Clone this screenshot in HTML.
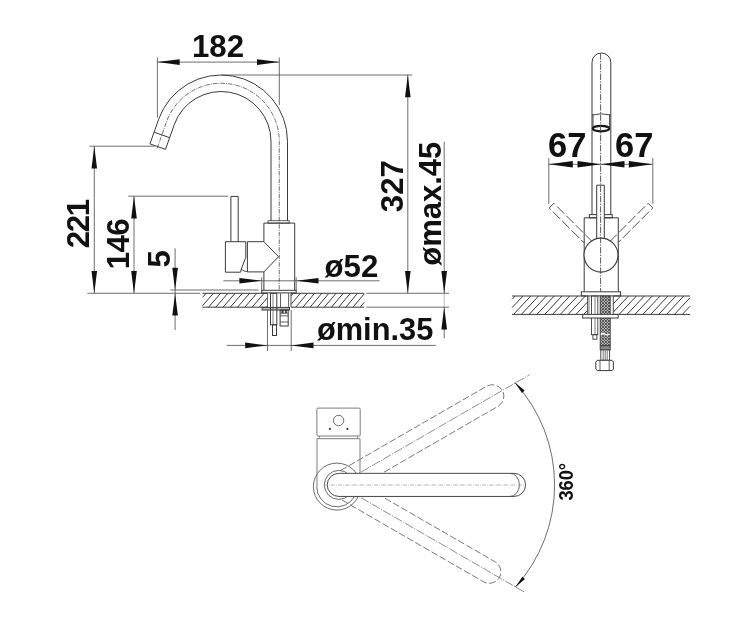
<!DOCTYPE html>
<html><head><meta charset="utf-8"><title>Faucet dimensions</title>
<style>
html,body{margin:0;padding:0;background:#fff;}
svg{display:block;will-change:transform}
.t{font-family:"Liberation Sans",sans-serif;font-weight:bold;fill:#111;}
</style></head><body>
<svg width="748" height="630" viewBox="0 0 748 630">
<rect width="748" height="630" fill="#fff"/>
<path d="M287.50 221.0 L287.50 141.3 A66.3 66.3 0 0 0 158.70 119.17 L149.96 143.87 L165.51 149.37 L174.26 124.68 A49.8 49.8 0 0 1 271.00 141.3 L271.00 221.0" stroke="#3a3a3a" stroke-width="1.0" fill="none" />
<line x1="154.10" y1="132.18" x2="169.65" y2="137.68" stroke="#3a3a3a" stroke-width="1.0" />
<path d="M157.07 148.51 L166.48 121.92 A58.05 58.05 0 0 1 279.25 141.3 L279.25 291" stroke="#555" stroke-width="0.85" fill="none" stroke-dasharray="4.4 1.1 1 1.1"/>
<rect x="268.00" y="220.70" width="21.20" height="2.40" stroke="#3a3a3a" stroke-width="0.8" fill="none" />
<path d="M263.9 241.7 L263.9 223.1 L294.7 223.1 L294.7 290.2" stroke="#3a3a3a" stroke-width="1.0" fill="none" />
<path d="M263.9 271.9 L263.9 290.2" stroke="#3a3a3a" stroke-width="1.0" fill="none" />
<path d="M263.9 241.7 L278.6 256.7 L263.9 271.9" stroke="#3a3a3a" stroke-width="1.0" fill="none" />
<path d="M263.9 241.7 L247.4 241.7 L247.4 271.9 L263.9 271.9" stroke="#3a3a3a" stroke-width="1.0" fill="none" />
<path d="M245.8 241.7 L225.4 241.7 L225.4 272.2 L240.6 272.2 L241.2 269.3 L245.8 257.2 Z" stroke="#3a3a3a" stroke-width="1.0" fill="none" />
<path d="M241.2 269.3 Q244 271.6 247.4 271.6" stroke="#3a3a3a" stroke-width="0.9" fill="none" />
<path d="M230.9 241.7 L230.9 196.4 L238.2 196.4 L238.2 241.7" stroke="#3a3a3a" stroke-width="1.0" fill="none" />
<rect x="261.70" y="290.30" width="34.50" height="2.60" stroke="#3a3a3a" stroke-width="1.0" fill="none" />
<line x1="261.70" y1="277.30" x2="261.70" y2="290.30" stroke="#4a4a4a" stroke-width="0.8" />
<line x1="296.20" y1="277.30" x2="296.20" y2="290.30" stroke="#4a4a4a" stroke-width="0.8" />
<path d="M202.60 297.33L206.10 293.30M202.60 305.67L213.35 293.30M208.52 307.20L220.60 293.30M215.77 307.20L227.85 293.30M223.02 307.20L235.10 293.30M230.27 307.20L242.35 293.30M237.52 307.20L249.60 293.30M244.77 307.20L256.85 293.30M252.02 307.20L264.10 293.30M259.27 307.20L267.50 297.73M266.52 307.20L267.50 306.07" stroke="#3a3a3a" stroke-width="1.0" fill="none" />
<path d="M291.00 295.86L293.15 293.30M291.00 304.38L300.30 293.30M295.79 307.20L307.45 293.30M302.94 307.20L314.60 293.30M310.09 307.20L321.75 293.30M317.24 307.20L328.90 293.30M324.39 307.20L336.05 293.30M331.54 307.20L343.20 293.30M338.69 307.20L350.35 293.30M345.84 307.20L357.50 293.30M352.99 307.20L364.20 293.84M360.14 307.20L364.20 302.36" stroke="#3a3a3a" stroke-width="1.0" fill="none" />
<line x1="202.40" y1="293.30" x2="267.50" y2="293.30" stroke="#3a3a3a" stroke-width="1.0" />
<line x1="291.00" y1="293.30" x2="364.20" y2="293.30" stroke="#3a3a3a" stroke-width="1.0" />
<line x1="202.40" y1="307.20" x2="267.50" y2="307.20" stroke="#3a3a3a" stroke-width="1.0" />
<line x1="291.00" y1="307.20" x2="364.20" y2="307.20" stroke="#3a3a3a" stroke-width="1.0" />
<line x1="366.30" y1="293.30" x2="449.00" y2="293.30" stroke="#4a4a4a" stroke-width="0.8" />
<line x1="366.30" y1="307.20" x2="449.00" y2="307.20" stroke="#4a4a4a" stroke-width="0.8" />
<line x1="87.30" y1="293.30" x2="200.30" y2="293.30" stroke="#4a4a4a" stroke-width="0.8" />
<line x1="267.50" y1="293.30" x2="267.50" y2="351.00" stroke="#4a4a4a" stroke-width="0.8" />
<line x1="291.20" y1="310.00" x2="291.20" y2="351.00" stroke="#4a4a4a" stroke-width="0.8" />
<line x1="291.00" y1="293.30" x2="291.00" y2="307.20" stroke="#3a3a3a" stroke-width="0.9" />
<rect x="262.10" y="307.40" width="27.40" height="2.60" stroke="#3a3a3a" stroke-width="1.0" fill="#bbb" />
<rect x="270.50" y="293.30" width="6.30" height="31.50" stroke="#3a3a3a" stroke-width="1.0" fill="none" />
<line x1="273.00" y1="293.30" x2="273.00" y2="324.80" stroke="#4a4a4a" stroke-width="0.7" />
<rect x="272.50" y="324.80" width="4.00" height="10.70" stroke="#3a3a3a" stroke-width="1.0" fill="none" />
<line x1="280.50" y1="293.30" x2="280.50" y2="307.20" stroke="#3a3a3a" stroke-width="0.8" />
<line x1="288.60" y1="293.30" x2="288.60" y2="307.20" stroke="#3a3a3a" stroke-width="0.8" />
<rect x="280.10" y="310.00" width="8.10" height="16.00" stroke="#3a3a3a" stroke-width="1.0" fill="none" />
<rect x="281.80" y="310.20" width="1.40" height="2.80" stroke="#3a3a3a" stroke-width="0.6" fill="#444" />
<rect x="285.20" y="310.20" width="1.40" height="2.80" stroke="#3a3a3a" stroke-width="0.6" fill="#444" />
<line x1="280.10" y1="313.20" x2="288.20" y2="313.20" stroke="#3a3a3a" stroke-width="0.8" />
<line x1="280.10" y1="315.80" x2="288.20" y2="315.80" stroke="#3a3a3a" stroke-width="0.8" />
<line x1="280.10" y1="322.00" x2="288.20" y2="322.00" stroke="#3a3a3a" stroke-width="0.8" />
<line x1="157.40" y1="57.40" x2="157.40" y2="117.60" stroke="#4a4a4a" stroke-width="0.8" />
<line x1="279.30" y1="57.40" x2="279.30" y2="105.00" stroke="#4a4a4a" stroke-width="0.8" />
<line x1="157.40" y1="62.10" x2="279.30" y2="62.10" stroke="#4a4a4a" stroke-width="0.8" />
<polygon points="157.40,62.10 179.70,59.30 179.70,64.90" fill="#111"/>
<polygon points="279.30,62.10 257.00,64.90 257.00,59.30" fill="#111"/>
<text transform="translate(192.00,56.90)" font-size="31.2" text-anchor="start" class="t">182</text>
<line x1="221.00" y1="75.00" x2="412.30" y2="75.00" stroke="#4a4a4a" stroke-width="0.8" />
<line x1="407.80" y1="75.00" x2="407.80" y2="293.30" stroke="#4a4a4a" stroke-width="0.8" />
<polygon points="407.80,75.00 410.60,97.30 405.00,97.30" fill="#111"/>
<polygon points="407.80,293.30 405.00,271.00 410.60,271.00" fill="#111"/>
<text transform="translate(403.20,212.20) rotate(-90)" font-size="31.2" text-anchor="start" class="t">327</text>
<line x1="444.20" y1="141.90" x2="444.20" y2="293.30" stroke="#4a4a4a" stroke-width="0.8" />
<polygon points="444.20,293.30 441.40,271.00 447.00,271.00" fill="#111"/>
<line x1="444.20" y1="307.20" x2="444.20" y2="338.40" stroke="#4a4a4a" stroke-width="0.8" />
<line x1="444.20" y1="293.30" x2="444.20" y2="307.20" stroke="#888" stroke-width="0.6" />
<polygon points="444.20,307.20 447.00,329.50 441.40,329.50" fill="#111"/>
<text transform="translate(441.30,265.80) rotate(-90)" font-size="31" text-anchor="start" class="t">ømax.45</text>
<line x1="223.40" y1="280.80" x2="379.60" y2="280.80" stroke="#4a4a4a" stroke-width="0.8" />
<polygon points="261.70,280.80 239.40,283.60 239.40,278.00" fill="#111"/>
<polygon points="296.20,280.80 318.50,278.00 318.50,283.60" fill="#111"/>
<text transform="translate(324.50,276.80)" font-size="31.2" text-anchor="start" class="t">ø52</text>
<line x1="226.60" y1="345.40" x2="435.80" y2="345.40" stroke="#4a4a4a" stroke-width="0.8" />
<polygon points="267.50,345.40 245.20,348.20 245.20,342.60" fill="#111"/>
<polygon points="291.20,345.40 313.50,342.60 313.50,348.20" fill="#111"/>
<text transform="translate(316.90,339.70)" font-size="30.8" text-anchor="start" class="t">ømin.35</text>
<line x1="89.30" y1="146.20" x2="154.50" y2="146.20" stroke="#4a4a4a" stroke-width="0.8" />
<line x1="94.30" y1="146.20" x2="94.30" y2="293.30" stroke="#4a4a4a" stroke-width="0.8" />
<polygon points="94.30,146.20 97.10,168.50 91.50,168.50" fill="#111"/>
<polygon points="94.30,293.30 91.50,271.00 97.10,271.00" fill="#111"/>
<text transform="translate(89.20,248.30) rotate(-90)" font-size="31.2" text-anchor="start" letter-spacing="-1.3" class="t">221</text>
<line x1="128.30" y1="196.20" x2="228.30" y2="196.20" stroke="#4a4a4a" stroke-width="0.8" />
<line x1="134.00" y1="196.20" x2="134.00" y2="293.30" stroke="#4a4a4a" stroke-width="0.8" />
<polygon points="134.00,196.20 136.80,218.50 131.20,218.50" fill="#111"/>
<polygon points="134.00,293.30 131.20,271.00 136.80,271.00" fill="#111"/>
<text transform="translate(128.60,269.30) rotate(-90)" font-size="31.2" text-anchor="start" letter-spacing="-0.6" class="t">146</text>
<line x1="170.30" y1="290.00" x2="258.50" y2="290.00" stroke="#4a4a4a" stroke-width="0.8" />
<line x1="175.10" y1="248.30" x2="175.10" y2="330.00" stroke="#4a4a4a" stroke-width="0.8" />
<polygon points="175.10,290.00 172.30,267.70 177.90,267.70" fill="#111"/>
<polygon points="175.10,293.30 177.90,315.60 172.30,315.60" fill="#111"/>
<text transform="translate(170.10,267.40) rotate(-90)" font-size="31.2" text-anchor="start" class="t">5</text>
<path d="M592.0 214.6 L592.0 62.40 A9.40 9.40 0 0 1 610.8 62.40 L610.8 214.6" stroke="#3a3a3a" stroke-width="1.0" fill="none" />
<path d="M592.0 115.0 Q601.0 112.6 610.8 115.0" stroke="#3a3a3a" stroke-width="0.9" fill="none" />
<path d="M593.0 114.3 L593.0 128.6 M609.6 114.3 L609.6 128.6" stroke="#3a3a3a" stroke-width="0.9" fill="none" />
<ellipse cx="601.0" cy="128.6" rx="8.2" ry="2.7" fill="#fff" stroke="#1a1a1a" stroke-width="2.2"/>
<rect x="589.40" y="214.60" width="22.80" height="3.20" stroke="#3a3a3a" stroke-width="1.0" fill="none" />
<path d="M584.2 291.8 L584.2 217.8 L618.3 217.8 L618.3 291.8" stroke="#3a3a3a" stroke-width="1.0" fill="none" />
<path d="M591.67 241.10 L553.84 203.27 L549.17 207.94 L584.20 242.97" stroke="#505050" stroke-width="1.0" fill="none" stroke-dasharray="10.5 2.8" stroke-dashoffset="1.2"/>
<path d="M610.33 241.10 L648.16 203.27 L652.83 207.94 L618.30 242.47" stroke="#505050" stroke-width="1.0" fill="none" stroke-dasharray="10.5 2.8" stroke-dashoffset="1.2"/>
<path d="M596.7 240 L596.7 185.2 L604.3 185.2 L604.3 240" stroke="#3a3a3a" stroke-width="1.0" fill="#fff" />
<circle cx="601.0" cy="255.1" r="17.0" fill="#fff" stroke="#3a3a3a" stroke-width="1.1"/>
<line x1="600.60" y1="53.30" x2="600.60" y2="291.50" stroke="#4a4a4a" stroke-width="0.9" stroke-dasharray="6.3 1.3 1.3 1.3"/>
<rect x="581.30" y="291.80" width="39.30" height="4.10" stroke="#3a3a3a" stroke-width="1.0" fill="none" />
<path d="M512.00 299.41L515.20 296.00M512.00 307.71L523.00 296.00M513.52 314.40L530.80 296.00M521.32 314.40L538.60 296.00M529.12 314.40L546.40 296.00M536.92 314.40L554.20 296.00M544.72 314.40L562.00 296.00M552.52 314.40L569.80 296.00M560.32 314.40L577.60 296.00M568.12 314.40L585.40 296.00M575.92 314.40L587.60 301.96M583.72 314.40L587.60 310.27" stroke="#3a3a3a" stroke-width="1.0" fill="none" />
<path d="M613.30 303.77L620.60 296.00M613.30 312.19L628.50 296.00M619.12 314.40L636.40 296.00M627.02 314.40L644.30 296.00M634.92 314.40L652.20 296.00M642.82 314.40L660.10 296.00M650.72 314.40L668.00 296.00M658.62 314.40L675.90 296.00M666.52 314.40L683.80 296.00M674.42 314.40L690.00 297.81M682.32 314.40L690.00 306.22" stroke="#3a3a3a" stroke-width="1.0" fill="none" />
<line x1="512.00" y1="296.00" x2="587.60" y2="296.00" stroke="#3a3a3a" stroke-width="1.0" />
<line x1="613.30" y1="296.00" x2="690.00" y2="296.00" stroke="#3a3a3a" stroke-width="1.0" />
<line x1="512.00" y1="314.40" x2="587.60" y2="314.40" stroke="#3a3a3a" stroke-width="1.0" />
<line x1="613.30" y1="314.40" x2="690.00" y2="314.40" stroke="#3a3a3a" stroke-width="1.0" />
<line x1="587.60" y1="296.00" x2="587.60" y2="314.40" stroke="#3a3a3a" stroke-width="0.9" />
<line x1="613.30" y1="296.00" x2="613.30" y2="314.40" stroke="#3a3a3a" stroke-width="0.9" />
<rect x="591.50" y="296.00" width="6.30" height="38.70" stroke="#3a3a3a" stroke-width="0.9" fill="none" />
<line x1="589.00" y1="296.00" x2="589.00" y2="314.40" stroke="#4a4a4a" stroke-width="0.7" />
<line x1="595.00" y1="296.00" x2="595.00" y2="334.70" stroke="#4a4a4a" stroke-width="0.7" />
<rect x="592.90" y="334.70" width="4.00" height="4.50" stroke="#3a3a3a" stroke-width="0.9" fill="none" />
<defs><pattern id="br" width="3" height="3" patternUnits="userSpaceOnUse"><rect width="3" height="3" fill="#b4b4b4"/><path d="M0 0L3 3M3 0L0 3" stroke="#484848" stroke-width="0.85"/></pattern></defs>
<rect x="600.2" y="296.0" width="10.0" height="49.80000000000001" fill="url(#br)" stroke="#3a3a3a" stroke-width="0.9"/>
<path d="M600.8 334.6 Q603 332.6 605.2 334.2 T609.6 333.8" stroke="#fff" stroke-width="1.3" fill="none" />
<rect x="582.70" y="314.40" width="35.50" height="3.60" stroke="#3a3a3a" stroke-width="1.0" fill="#fff" />
<rect x="600.20" y="345.80" width="10.00" height="4.20" stroke="#3a3a3a" stroke-width="0.9" fill="#8a8a8a" />
<rect x="600.80" y="350.00" width="8.80" height="10.30" stroke="#3a3a3a" stroke-width="0.9" fill="#fff" />
<line x1="603.20" y1="350.50" x2="603.20" y2="360.00" stroke="#3a3a3a" stroke-width="0.7" />
<line x1="605.20" y1="350.50" x2="605.20" y2="360.00" stroke="#3a3a3a" stroke-width="0.7" />
<line x1="607.20" y1="350.50" x2="607.20" y2="360.00" stroke="#3a3a3a" stroke-width="0.7" />
<path d="M597.2 360.3 L612.0 360.3 L613.4 362 L613.4 369 L612.0 370.6 L597.2 370.6 L595.8 369 L595.8 362 Z" stroke="#3a3a3a" stroke-width="1.0" fill="#fff" />
<line x1="600.00" y1="360.30" x2="600.00" y2="370.60" stroke="#3a3a3a" stroke-width="0.8" />
<line x1="609.20" y1="360.30" x2="609.20" y2="370.60" stroke="#3a3a3a" stroke-width="0.8" />
<line x1="548.80" y1="158.00" x2="548.80" y2="203.90" stroke="#4a4a4a" stroke-width="0.8" />
<line x1="652.80" y1="158.00" x2="652.80" y2="203.90" stroke="#4a4a4a" stroke-width="0.8" />
<line x1="548.80" y1="164.30" x2="652.80" y2="164.30" stroke="#4a4a4a" stroke-width="0.8" />
<polygon points="548.80,164.30 572.80,161.10 572.80,167.50" fill="#111"/>
<polygon points="601.00,164.30 577.50,167.50 577.50,161.10" fill="#111"/>
<polygon points="601.00,164.30 624.50,161.10 624.50,167.50" fill="#111"/>
<polygon points="652.80,164.30 628.80,167.50 628.80,161.10" fill="#111"/>
<text transform="translate(548.00,157.10)" font-size="34.5" text-anchor="start" class="t">67</text>
<text transform="translate(615.00,157.10)" font-size="34.5" text-anchor="start" class="t">67</text>
<circle cx="336.9" cy="486.6" r="23.5" fill="none" stroke="#505050" stroke-width="0.85"/>
<path d="M316.70 486.60 A20.2 20.2 0 0 0 354.54 496.45" stroke="#505050" stroke-width="0.85" fill="none" />
<rect x="316.9" y="408.1" width="43.3" height="27.9" rx="1" fill="none" stroke="#7d7d7d" stroke-width="1.0"/>
<circle cx="338.6" cy="420.5" r="5.2" fill="none" stroke="#505050" stroke-width="0.85"/>
<circle cx="329.9" cy="428.9" r="1.05" fill="#333"/><circle cx="347.4" cy="428.9" r="1.05" fill="#333"/>
<path d="M319.4 436 L319.4 438.7 M357.6 436 L357.6 438.7" stroke="#7d7d7d" stroke-width="0.9" fill="none" />
<line x1="317.00" y1="438.70" x2="360.00" y2="438.70" stroke="#7d7d7d" stroke-width="1.0" />
<circle cx="338.8" cy="484.9" r="14.5" fill="none" stroke="#505050" stroke-width="0.85"/>
<g transform="translate(338.8,484.9) rotate(-30)"><path d="M9.0 -11.55 L177.0 -11.55 A11.850000000000001 11.55 0 0 1 177.0 11.55 L9.0 11.55" fill="none" stroke="#686868" stroke-width="0.8" stroke-dasharray="7 2.4"/><path d="M0 0 L220.4 0" fill="none" stroke="#787878" stroke-width="0.75" stroke-dasharray="9 1.3 1.2 1.3"/></g>
<g transform="translate(338.8,484.9) rotate(30)"><path d="M9.0 -11.55 L173.5 -11.55 A11.850000000000001 11.55 0 0 1 173.5 11.55 L9.0 11.55" fill="none" stroke="#686868" stroke-width="0.8" stroke-dasharray="7 2.4"/><path d="M0 0 L215.0 0" fill="none" stroke="#787878" stroke-width="0.75" stroke-dasharray="9 1.3 1.2 1.3"/></g>
<line x1="317.00" y1="438.70" x2="317.00" y2="486.60" stroke="#7d7d7d" stroke-width="1.0" />
<line x1="360.00" y1="438.70" x2="360.00" y2="473.30" stroke="#7d7d7d" stroke-width="1.0" />
<path d="M338.8 473.34999999999997 L514.0 473.34999999999997 A11.55 11.55 0 0 1 514.0 496.45 L338.8 496.45 A11.55 11.55 0 0 1 338.8 473.34999999999997 Z" stroke="#484848" stroke-width="1.0" fill="#fff" />
<path d="M510 473.34999999999997 A9.4 11.55 0 0 1 510 496.45" stroke="#505050" stroke-width="0.85" fill="none" />
<line x1="323.70" y1="485.00" x2="525.60" y2="485.00" stroke="#a0a0a0" stroke-width="0.8" stroke-dasharray="4 1.2 0.8 1.2"/>
<path d="M514.9 382.5 A152.31 152.31 0 0 1 515.3 587.2" stroke="#4a4a4a" stroke-width="0.8" fill="none" />
<polygon points="514.90,382.50 524.66,390.52 522.00,392.94" fill="#111"/>
<polygon points="515.30,587.20 522.32,576.70 524.99,579.11" fill="#111"/>
<text transform="translate(572.90,500.60) rotate(-90) scale(0.875,1)" font-size="20.8" text-anchor="start" class="t">360°</text>
</svg>
</body></html>
